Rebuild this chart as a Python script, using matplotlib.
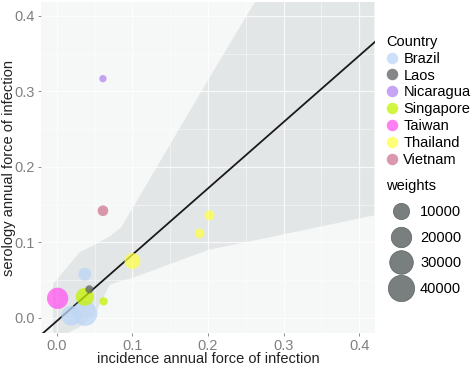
import numpy as np
import matplotlib
matplotlib.use("Agg")
import matplotlib.pyplot as plt
from matplotlib.lines import Line2D

plt.rcParams['font.family'] = ['Liberation Sans', 'DejaVu Sans']

# ======== DATA ========
countries = ["Brazil", "Laos", "Nicaragua", "Singapore", "Taiwan", "Thailand", "Vietnam"]
country_colors = ["#bcd6f7", "#5c6060", "#b585ef", "#c4f200", "#ff55f0", "#ffff4a", "#cf7690"]

point_country = ["Brazil", "Brazil", "Brazil", "Laos", "Nicaragua", "Singapore",
                 "Singapore", "Taiwan", "Thailand", "Thailand", "Thailand", "Vietnam"]
incidence_foi = [0.037, 0.019, 0.037, 0.043, 0.061, 0.037, 0.062, 0.001, 0.100, 0.202, 0.189, 0.061]
serology_foi = [0.006, 0.003, 0.058, 0.038, 0.317, 0.028, 0.022, 0.026, 0.0755, 0.136, 0.112, 0.142]
weights = [35000, 18000, 4500, 300, 100, 13700, 400, 22500, 9400, 1400, 1150, 1900]

weight_breaks = [10000, 20000, 30000, 40000]

# fitted line and its band
fit_slope = 0.878
fit_intercept = -0.004
band_x = [-0.005, 0.03, 0.05, 0.07, 0.085, 0.1, 0.2, 0.263, 0.42]
band_hi = [0.045, 0.087, 0.097, 0.108, 0.12, 0.145, 0.315, 0.42, 0.7]
band_lo = [-0.03, -0.012, 0.004, 0.044, 0.049, 0.053, 0.09, 0.103, 0.136]


def marker_area(w):
    # diameter in px grows with sqrt(weight), like ggplot's scale_size
    d_px = 6.3 + 0.1 * np.sqrt(np.asarray(w, dtype=float))
    return (d_px * 0.72) ** 2


# ======== PLOT ========
fig = plt.figure(figsize=(4.74, 3.66), dpi=100)
ax = fig.add_axes([0.0865, 0.09, 0.7045, 0.9045])

ax.set_facecolor("#f6f7f7")
ax.fill_between(band_x, band_lo, band_hi, color="#e3e6e7", lw=0, zorder=1)

ax.set_xlim(-0.021, 0.421)
ax.set_ylim(-0.02, 0.4185)
ticks = [0.0, 0.1, 0.2, 0.3, 0.4]
ax.set_xticks(ticks)
ax.set_yticks(ticks)
ax.set_xticks([0.05, 0.15, 0.25, 0.35], minor=True)
ax.set_yticks([0.05, 0.15, 0.25, 0.35], minor=True)
ax.grid(True, which="major", color="white", lw=0.9, alpha=0.8, zorder=1.5)
ax.grid(True, which="minor", color="white", lw=0.5, alpha=0.6, zorder=1.5)
ax.set_axisbelow(False)
for s in ax.spines.values():
    s.set_visible(False)
ax.tick_params(which="major", length=2.5, width=0.6, color="#7f7f7f",
               labelsize=10.5, labelcolor="#808080", pad=2)
ax.tick_params(which="minor", length=0)
ax.set_xticklabels(["0.0", "0.1", "0.2", "0.3", "0.4"])
ax.set_yticklabels(["0.0", "0.1", "0.2", "0.3", "0.4"])

ax.axline((0, fit_intercept), slope=fit_slope, color="#1a1a1a", lw=1.3, zorder=3)

color_of = dict(zip(countries, country_colors))
pt_colors = [color_of[c] for c in point_country]
order = np.argsort(weights)[::-1]
ax.scatter(np.array(incidence_foi)[order], np.array(serology_foi)[order],
           s=marker_area(np.array(weights)[order]),
           c=[pt_colors[i] for i in order], alpha=0.75, lw=0, zorder=4)

ax.set_xlabel("incidence annual force of infection", fontsize=10.5, color="#222222")
ax.set_ylabel("serology annual force of infection", fontsize=10.5, color="#222222")
ax.xaxis.set_label_coords(0.5, -0.058)
ax.yaxis.set_label_coords(-0.074, 0.5)

# ======== LEGENDS ========
country_handles = [Line2D([], [], ls="", marker="o", markersize=8.3, markerfacecolor=c,
                          markeredgewidth=0, alpha=0.75) for c in country_colors]
leg1 = fig.legend(country_handles, countries, title="Country", loc="upper left",
                  bbox_to_anchor=(0.800, 0.925), frameon=False, fontsize=10.5,
                  title_fontsize=10.5, handlelength=0.8, handletextpad=0.35,
                  labelspacing=0.2, borderpad=0, alignment="left")

weight_handles = [Line2D([], [], ls="", marker="o", markersize=np.sqrt(marker_area(w)),
                         markerfacecolor="#6a7070", markeredgecolor="#555a5a",
                         markeredgewidth=0.5, alpha=0.9) for w in weight_breaks]
leg2 = fig.legend(weight_handles, [str(w) for w in weight_breaks], title="weights",
                  loc="upper left", bbox_to_anchor=(0.800, 0.530), frameon=False,
                  fontsize=10.5, title_fontsize=10.5, handlelength=2.0,
                  handletextpad=0.3, labelspacing=0.8, borderpad=0, alignment="left")

fig.savefig("out.png", dpi=100)
